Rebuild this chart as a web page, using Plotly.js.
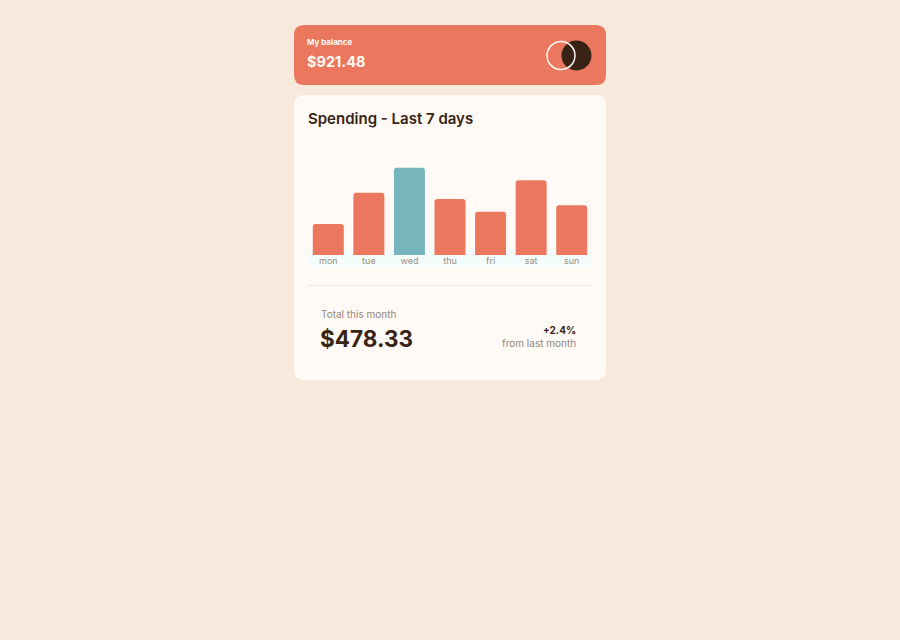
<!DOCTYPE html>
<html>
<head>
<meta charset="utf-8">
<script src="https://cdn.plot.ly/plotly-3.0.1.min.js"></script>
<style>
html,body{margin:0;padding:0;background:#f8e9dd;}
#chart{width:900px;height:640px;}
</style>
</head>
<body>
<div id="chart"></div>
<script>
// ---- data ----
const days = ["mon", "tue", "wed", "thu", "fri", "sat", "sun"];
const amounts = [18.6, 37.4, 52.4, 33.6, 26.0, 44.8, 29.8];
const balanceLabel = "My balance";
const balanceValue = "$921.48";
const chartTitle = "Spending - Last 7 days";
const totalLabel = "Total this month";
const totalValue = "$478.33";
const changeValue = "+2.4%";
const changeLabel = "from last month";

// ---- helpers (pixel -> paper) ----
const W = 900, H = 640;
const px = x => x / W;
const py = y => 1 - y / H;

function roundRect(x0, y0, x1, y1, r) {
  const X = v => px(v), Y = v => py(v);
  return `M ${X(x0 + r)} ${Y(y0)} L ${X(x1 - r)} ${Y(y0)} Q ${X(x1)} ${Y(y0)} ${X(x1)} ${Y(y0 + r)} ` +
         `L ${X(x1)} ${Y(y1 - r)} Q ${X(x1)} ${Y(y1)} ${X(x1 - r)} ${Y(y1)} ` +
         `L ${X(x0 + r)} ${Y(y1)} Q ${X(x0)} ${Y(y1)} ${X(x0)} ${Y(y1 - r)} ` +
         `L ${X(x0)} ${Y(y0 + r)} Q ${X(x0)} ${Y(y0)} ${X(x0 + r)} ${Y(y0)} Z`;
}

const maxVal = Math.max(...amounts);
const barColors = amounts.map(v => v === maxVal ? "#76b5bc" : "#ec775f");

const FONT = "Inter, 'DejaVu Sans', sans-serif";

const trace = {
  type: "bar",
  x: days,
  y: amounts,
  marker: { color: barColors, cornerradius: 3, line: { width: 0 } },
  hoverinfo: "skip",
  showlegend: false
};

const shapes = [
  { type: "path", xref: "paper", yref: "paper", path: roundRect(294, 25, 606, 85, 10),
    fillcolor: "#ec775f", line: { width: 0 }, layer: "below" },
  { type: "path", xref: "paper", yref: "paper", path: roundRect(294, 95, 606, 380, 10),
    fillcolor: "#fffaf5", line: { width: 0 }, layer: "below" },
  { type: "rect", xref: "paper", yref: "paper", x0: px(308), x1: px(592), y0: py(267), y1: py(250),
    fillcolor: "#f3fcfa", line: { width: 0 }, layer: "below" },
  { type: "circle", xref: "paper", yref: "paper", x0: px(561.5), x1: px(591.5), y0: py(70.5), y1: py(40.5),
    fillcolor: "#382314", line: { width: 0 } },
  { type: "circle", xref: "paper", yref: "paper", x0: px(547), x1: px(575), y0: py(69.5), y1: py(41.5),
    fillcolor: "rgba(0,0,0,0)", line: { color: "#fffaf5", width: 1.5 } },
  { type: "line", xref: "paper", yref: "paper", x0: px(308), x1: px(592), y0: py(285.5), y1: py(285.5),
    line: { color: "#f3e5da", width: 1 } }
];

function ann(text, x, y, size, color, weight, anchor) {
  return { text: text, xref: "paper", yref: "paper", x: px(x), y: py(y),
    xanchor: anchor || "left", yanchor: "middle", showarrow: false, borderpad: 0,
    font: { family: FONT, size: size, color: color, weight: weight || 400 } };
}

const annotations = [
  ann(balanceLabel, 306, 42, 8, "#fffaf5", 700),
  ann(balanceValue, 306, 61, 14.5, "#fffaf5", 700),
  ann(chartTitle, 307, 119, 15, "#382314", 600),
  ann(totalLabel, 320, 314, 10, "#93867b", 400),
  ann(totalValue, 319, 338, 22.5, "#382314", 700),
  ann(changeValue, 577, 330, 10, "#382314", 700, "right"),
  ann(changeLabel, 577, 343, 10, "#93867b", 400, "right")
];

const layout = {
  width: W, height: H,
  margin: { l: 0, r: 0, t: 0, b: 0 },
  paper_bgcolor: "#f8e9dd",
  plot_bgcolor: "rgba(0,0,0,0)",
  bargap: 0.236,
  xaxis: {
    domain: [px(308), px(592)],
    anchor: "y",
    showgrid: false, zeroline: false, showline: false, ticks: "",
    tickfont: { family: FONT, size: 9, color: "#9a8e84" },
    ticklabelstandoff: -1,
    fixedrange: true
  },
  yaxis: {
    domain: [py(255), py(155)],
    range: [0, 60],
    visible: false,
    fixedrange: true
  },
  shapes: shapes,
  annotations: annotations,
  font: { family: FONT }
};

Plotly.newPlot("chart", [trace], layout, { displayModeBar: false, staticPlot: true });
</script>
</body>
</html>
